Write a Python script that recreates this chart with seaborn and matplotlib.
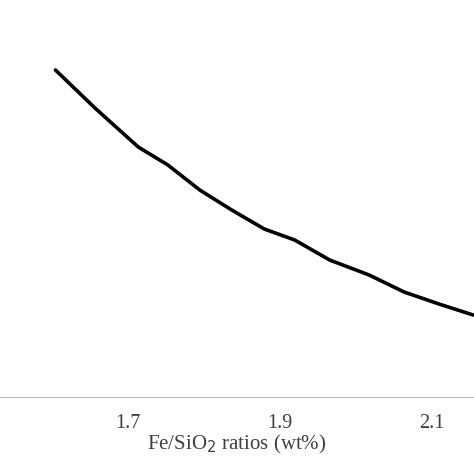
import matplotlib
matplotlib.use("Agg")
import matplotlib.pyplot as plt
import pandas as pd
import seaborn as sns

ratio = [1.605, 1.657, 1.714, 1.753, 1.795, 1.837, 1.880, 1.920, 1.966, 2.018, 2.064, 2.110, 2.155]
value = [3.27, 2.89, 2.50, 2.32, 2.07, 1.87, 1.68, 1.57, 1.37, 1.22, 1.05, 0.93, 0.82]
xticks = [1.7, 1.9, 2.1]

sns.set_style("white")
plt.rcParams["font.family"] = ["Liberation Serif", "DejaVu Serif"]

fig = plt.figure(figsize=(4.74, 4.74), dpi=100)
ax = fig.add_axes([0, 0.1624, 1, 0.8376])
df = pd.DataFrame({"ratio": ratio, "value": value})
sns.lineplot(data=df, x="ratio", y="value", color="black", linewidth=2.6, ax=ax)
ax.set_xlim(1.532, 2.156)
ax.set_ylim(0, 3.97)
ax.set_yticks([])
ax.set_xticks(xticks)
ax.set_xticklabels([f"{t:.1f}" for t in xticks], fontsize=14.5, color="#404040")
ax.tick_params(axis="x", length=0, pad=12)
for side in ["top", "right", "left"]:
    ax.spines[side].set_visible(False)
ax.spines["bottom"].set_color("#bfbfbf")
ax.set_ylabel("")
ax.set_xlabel("Fe/SiO$_2$ ratios (wt%)", fontsize=15, color="#404040", labelpad=0)
fig.savefig("out.png", dpi=100)
